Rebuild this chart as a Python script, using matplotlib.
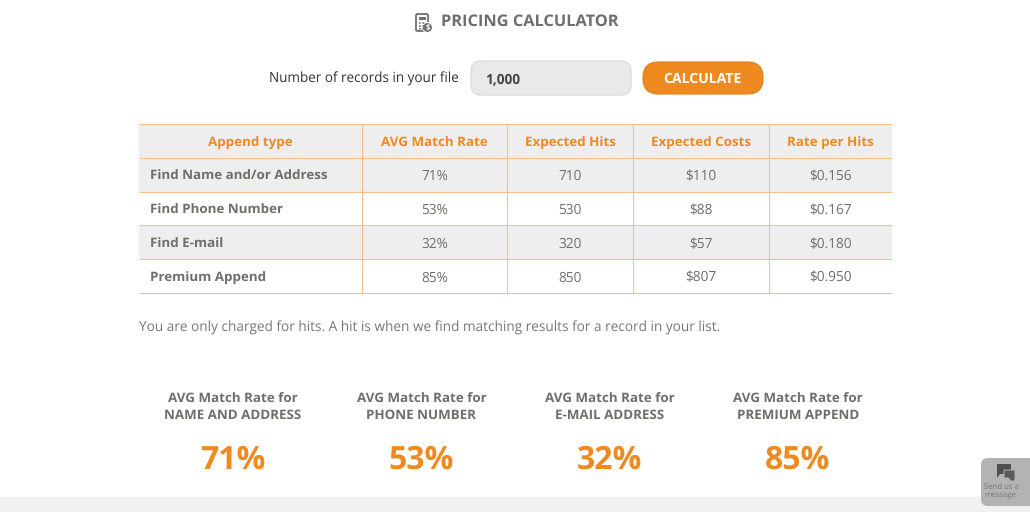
import matplotlib
matplotlib.use("Agg")
import matplotlib.pyplot as plt
from matplotlib.patches import Rectangle, FancyBboxPatch, Circle, Polygon
from matplotlib.lines import Line2D

plt.rcParams['font.family'] = ['Open Sans', 'DejaVu Sans']
plt.rcParams['text.hinting'] = 'no_hinting'

headers = ["Append type", "AVG Match Rate", "Expected Hits", "Expected Costs", "Rate per Hits"]
append_types = ["Find Name and/or Address", "Find Phone Number", "Find E-mail", "Premium Append"]
match_rates = [71, 53, 32, 85]
hits = [710, 530, 320, 850]
costs = [110, 88, 57, 807]
rates = [0.156, 0.167, 0.180, 0.950]
card_top = ["AVG Match Rate for"] * 4
card_bottom = ["NAME AND ADDRESS", "PHONE NUMBER", "E-MAIL ADDRESS", "PREMIUM APPEND"]

ORANGE = '#EF8A20'
LINE = '#F6C08A'
GREY = '#6E6E6A'
BAND = '#EEEEEE'

fig = plt.figure(figsize=(10.30, 5.12), dpi=100)
ax = fig.add_axes([0, 0, 1, 1])
ax.set_xlim(0, 1030)
ax.set_ylim(512, 0)
ax.axis('off')

def px(s):
    return s * 0.72

def box(x, y, w, h, r, fc, ec='none', lw=0):
    ax.add_patch(FancyBboxPatch((x + r, y + r), w - 2 * r, h - 2 * r,
                                boxstyle=f"round,pad={r},rounding_size={r}",
                                fc=fc, ec=ec, lw=lw))

# footer band
ax.add_patch(Rectangle((0, 497), 1030, 15, fc='#F1F1F1', ec='none'))

# title + icon
ax.text(530, 21.5, "PRICING CALCULATOR", fontsize=px(16.4), fontweight='bold', color=GREY, ha='center', va='center')
box(416, 14, 12, 17, 1.5, 'white', GREY, 1.3)
ax.add_patch(Rectangle((418.5, 16.5), 7, 3, fc=GREY, ec='none'))
for yy in (22.5, 25.5, 28.5):
    ax.add_line(Line2D([418.5, 425.5], [yy, yy], color=GREY, lw=1.1, ls=(0, (1.2, 1))))
ax.add_patch(Circle((427.5, 27.5), 5, fc=GREY, ec='white', lw=0.8))
ax.text(427.5, 27.5, "$", fontsize=5.5, color='white', ha='center', va='center', fontweight='bold')

# input row
ax.text(459, 83, "Number of records in your file", fontsize=px(13.55), color='#333333', ha='right', va='baseline')
box(471, 61, 160, 34, 10, '#E9E9E9', '#DDDDDD', 1.0)
ax.text(485, 83, "1,000", fontsize=px(13.6), fontweight='bold', color='#444444', ha='left', va='baseline')
box(643, 62, 120, 32, 15.5, ORANGE, '#DE7F1B', 0.8)
ax.text(702.5, 83, "CALCULATE", fontsize=px(14), fontweight='bold', color='white', ha='center', va='baseline')

# table
col_x = [139, 362, 507, 633, 769, 891.5]
row_y = [124, 158, 191.5, 225, 259, 292.5]
for i in range(5):
    fc = BAND if i in (0, 1, 3) else 'white'
    ax.add_patch(Rectangle((col_x[0], row_y[i]), col_x[-1] - col_x[0], row_y[i + 1] - row_y[i], fc=fc, ec='none'))
for y in row_y:
    ax.add_line(Line2D([col_x[0], col_x[-1]], [y, y], color=LINE, lw=0.8, solid_capstyle='butt'))
for x in col_x[1:-1]:
    ax.add_line(Line2D([x, x], [row_y[0], row_y[-1]], color=LINE, lw=0.8, solid_capstyle='butt'))

centers = [(col_x[i] + col_x[i + 1]) / 2 for i in range(5)]
for c, h in zip(centers, headers):
    ax.text(c, 147, h, fontsize=px(13.35), fontweight='bold', color=ORANGE, ha='center', va='baseline')

row_baselines = [180, 214, 248, 281.5]
for i, name in enumerate(append_types):
    y = row_baselines[i]
    ax.text(150, y, name, fontsize=px(13.35), fontweight='bold', color=GREY, ha='left', va='baseline')
    vals = [f"{match_rates[i]}%", f"{hits[i]}", f"${costs[i]}", f"${rates[i]:.3f}"]
    for c, v in zip(centers[1:], vals):
        ax.text(c, y, v, fontsize=px(13.6), color=GREY, ha='center', va='baseline')

ax.text(139, 332, "You are only charged for hits. A hit is when we find matching results for a record in your list.",
        fontsize=px(13.6), color='#777773', ha='left', va='baseline')

# stat cards
card_x = [233, 421.5, 609.5, 798]
for x, a, b, r in zip(card_x, card_top, card_bottom, match_rates):
    ax.text(x, 402.5, a, fontsize=px(13.35), fontweight='bold', color=GREY, ha='center', va='baseline')
    ax.text(x, 419, b, fontsize=px(13.35), fontweight='bold', color=GREY, ha='center', va='baseline')
    ax.text(x, 469, f"{r}%", fontsize=px(32), fontweight='bold', color=ORANGE, ha='center', va='baseline')

# chat widget
box(981, 458, 60, 48, 7, '#B3B3B3')
ax.add_patch(Polygon([[997, 464], [1011, 464], [1011, 474], [1000, 474], [997, 478]], fc='#4F4F4F', ec='none'))
ax.add_patch(Polygon([[1004, 470], [1015, 470], [1015, 481], [1011, 481], [1008, 478], [1004, 478]], fc='#5A5A5A', ec='#B3B3B3', lw=0.7))
ax.text(984, 486.5, "Send us a", fontsize=px(7.8), color='#777777', ha='left', va='center')
ax.text(984, 495, "message", fontsize=px(7.8), color='#777777', ha='left', va='center')

fig.savefig('out.png', dpi=100)
